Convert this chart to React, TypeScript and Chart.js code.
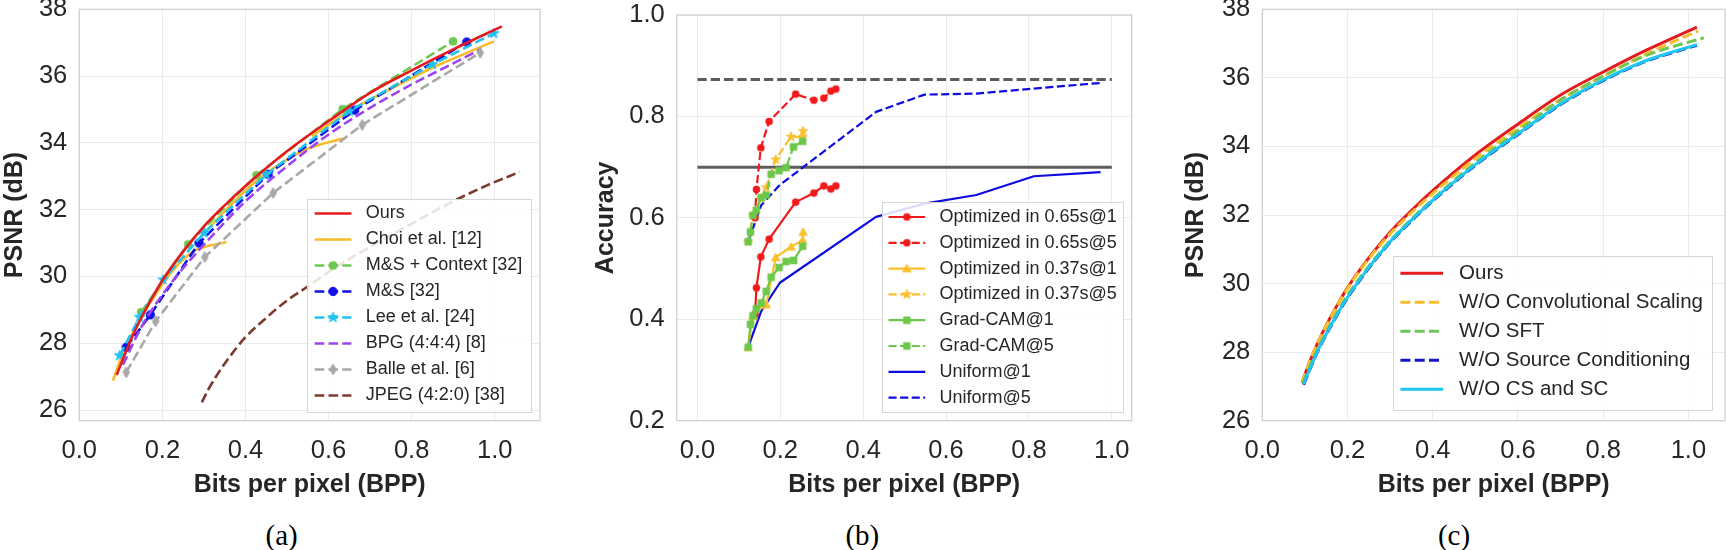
import React, { useEffect, useRef } from "react";
import { Chart, registerables } from "chart.js";

Chart.register(...registerables);

const FONT = '"Liberation Sans", Arial, Helvetica, sans-serif';
const SERIF = '"Liberation Serif", "Times New Roman", Times, serif';
const TEXT = "#262626";
const GRID = "#ebebeb";
const FRAME = "#cfcfcf";

// ================= Panel (a): rate-distortion comparison =================
const aXTicks = [0, 0.2, 0.4, 0.6, 0.8, 1.0];
const aYTicks = [26, 28, 30, 32, 34, 36, 38];

const aOursX = [0.09, 0.11, 0.13, 0.15, 0.175, 0.2, 0.25, 0.3, 0.35, 0.4, 0.5, 0.6, 0.7, 0.8, 0.9, 1.017];
const aOursY = [27.05, 27.68, 28.27, 28.78, 29.35, 29.88, 30.75, 31.5, 32.13, 32.71, 33.75, 34.65, 35.5, 36.17, 36.8, 37.49];

// Choi et al. is drawn in three disconnected pieces (null = break)
const aChoiX = [0.081, 0.1, 0.13, 0.17, 0.22, 0.26, 0.282, 0.354, 0.354, 0.29, 0.35, 0.42, 0.5, 0.551, 0.635, 0.635, 0.56, 0.65, 0.75, 0.85, 0.93, 0.998];
const aChoiY = [26.88, 27.55, 28.35, 29.2, 30.1, 30.62, 30.8, 31.03, null, 31.15, 31.95, 32.8, 33.5, 33.83, 34.13, null, 34.2, 34.95, 35.62, 36.25, 36.68, 37.04];

const aMsCtxX = [0.149, 0.262, 0.4265, 0.634, 0.8996];
const aMsCtxY = [28.93, 30.96, 33.03, 35.01, 37.04];

const aMsX = [0.113, 0.171, 0.288, 0.4545, 0.663, 0.9326];
const aMsY = [27.88, 28.85, 31.0, 33.06, 34.98, 37.02];

const aLeeX = [0.097, 0.145, 0.2015, 0.3, 0.45, 0.65, 0.85, 0.998];
const aLeeY = [27.63, 28.78, 29.9, 31.3, 33.05, 34.95, 36.35, 37.28];

const aBpgX = [0.105, 0.15, 0.2, 0.25, 0.3, 0.4, 0.5, 0.6, 0.7, 0.8, 0.9, 0.967];
const aBpgY = [27.35, 28.5, 29.45, 30.25, 30.95, 32.25, 33.3, 34.25, 35.05, 35.75, 36.38, 36.81];

const aBalleX = [0.113, 0.184, 0.302, 0.4665, 0.681, 0.965];
const aBalleY = [27.13, 28.66, 30.58, 32.5, 34.54, 36.7];

const aJpegX = [0.295, 0.31, 0.33, 0.36, 0.4, 0.45, 0.5, 0.55, 0.62, 0.7, 0.8, 0.9, 0.98, 1.06];
const aJpegY = [26.23, 26.6, 27.02, 27.56, 28.18, 28.76, 29.28, 29.7, 30.3, 30.88, 31.58, 32.25, 32.72, 33.13];

// ================= Panel (b): accuracy vs bpp =================
const bXTicks = [0, 0.2, 0.4, 0.6, 0.8, 1.0];
const bYTicks = [0.2, 0.4, 0.6, 0.8, 1.0];

const bRefX = [0, 1.0];
const bTop5Ref = [0.873, 0.873];
const bTop1Ref = [0.7, 0.7];

const bOpt65X = [0.139, 0.1424, 0.153, 0.173, 0.237, 0.281, 0.305, 0.322, 0.334];
const bOpt65Top1 = [0.41, 0.462, 0.523, 0.558, 0.631, 0.649, 0.663, 0.657, 0.663];
const bOpt65Top5 = [0.6, 0.656, 0.738, 0.79, 0.844, 0.832, 0.836, 0.85, 0.854];

const bOpt37X = [0.1224, 0.134, 0.154, 0.166, 0.189, 0.226, 0.254, 0.255];
const bOpt37Top1 = [0.345, 0.405, 0.428, 0.429, 0.522, 0.543, 0.556, 0.572];
const bOpt37Top5 = [0.553, 0.605, 0.638, 0.66, 0.715, 0.76, 0.759, 0.771];

const bGradX = [0.1224, 0.128, 0.134, 0.142, 0.154, 0.166, 0.178, 0.197, 0.214, 0.232, 0.254];
const bGradTop1 = [0.345, 0.39, 0.407, 0.421, 0.432, 0.455, 0.483, 0.502, 0.514, 0.516, 0.544];
const bGradTop5 = [0.553, 0.572, 0.605, 0.615, 0.64, 0.645, 0.686, 0.693, 0.699, 0.74, 0.751];

const bUniX = [0.1224, 0.154, 0.199, 0.431, 0.548, 0.673, 0.812, 0.973];
const bUniTop1 = [0.345, 0.416, 0.472, 0.602, 0.628, 0.645, 0.682, 0.69];
const bUniTop5 = [0.553, 0.625, 0.665, 0.809, 0.843, 0.845, 0.855, 0.866];

// ================= Panel (c): ablation =================
const cXTicks = [0, 0.2, 0.4, 0.6, 0.8, 1.0];
const cYTicks = [26, 28, 30, 32, 34, 36, 38];

const cOursX = [0.093, 0.11, 0.13, 0.15, 0.175, 0.2, 0.25, 0.3, 0.35, 0.4, 0.5, 0.6, 0.7, 0.8, 0.9, 1.02];
const cOursY = [27.1, 27.68, 28.27, 28.78, 29.35, 29.88, 30.75, 31.5, 32.13, 32.71, 33.75, 34.65, 35.5, 36.17, 36.8, 37.48];
const cNoConvX = [0.093, 0.11, 0.13, 0.15, 0.175, 0.2, 0.25, 0.3, 0.35, 0.4, 0.5, 0.6, 0.7, 0.8, 0.9, 1.023];
const cNoConvY = [27.1, 27.68, 28.27, 28.77, 29.34, 29.86, 30.72, 31.45, 32.07, 32.63, 33.65, 34.53, 35.37, 36.05, 36.69, 37.37];
const cNoSftX = [0.095, 0.11, 0.13, 0.15, 0.175, 0.2, 0.25, 0.3, 0.35, 0.4, 0.5, 0.6, 0.7, 0.8, 0.9, 1.036];
const cNoSftY = [27.08, 27.53, 28.09, 28.58, 29.15, 29.66, 30.51, 31.25, 31.88, 32.46, 33.53, 34.45, 35.35, 36.05, 36.65, 37.17];
const cNoSrcX = [0.097, 0.11, 0.13, 0.15, 0.175, 0.2, 0.25, 0.3, 0.35, 0.4, 0.5, 0.6, 0.7, 0.8, 0.9, 1.02];
const cNoSrcY = [27.05, 27.45, 28.02, 28.51, 29.07, 29.58, 30.45, 31.2, 31.83, 32.41, 33.45, 34.35, 35.22, 35.92, 36.48, 36.95];
const cNoBothX = [0.097, 0.11, 0.13, 0.15, 0.175, 0.2, 0.25, 0.3, 0.35, 0.4, 0.5, 0.6, 0.7, 0.8, 0.9, 1.02];
const cNoBothY = [27.07, 27.47, 28.04, 28.53, 29.09, 29.6, 30.47, 31.22, 31.85, 32.43, 33.47, 34.37, 35.24, 35.94, 36.5, 36.97];

// ================= helpers =================
function zip(xs: number[], ys: (number | null)[]) {
  return xs.map((x, i) => ({ x, y: ys[i] }));
}

function makeMarker(shape: string, color: string, r: number): HTMLCanvasElement {
  const pad = 2;
  const dim = Math.ceil(r * 2 + pad * 2);
  const c = document.createElement("canvas");
  c.width = dim;
  c.height = dim;
  const g = c.getContext("2d") as CanvasRenderingContext2D;
  const cx = dim / 2;
  const cy = dim / 2;
  g.fillStyle = color;
  g.strokeStyle = color;
  g.lineWidth = 1;
  g.beginPath();
  if (shape === "circle") {
    g.arc(cx, cy, r, 0, Math.PI * 2);
  } else if (shape === "square") {
    g.rect(cx - r, cy - r, 2 * r, 2 * r);
  } else if (shape === "triangle") {
    g.moveTo(cx, cy - r);
    g.lineTo(cx - r, cy + r * 0.8);
    g.lineTo(cx + r, cy + r * 0.8);
    g.closePath();
  } else if (shape === "star") {
    const ri = r * 0.382;
    for (let k = 0; k < 10; k++) {
      const ang = -Math.PI / 2 + (k * Math.PI) / 5;
      const rr = k % 2 === 0 ? r : ri;
      const px = cx + rr * Math.cos(ang);
      const py = cy + rr * Math.sin(ang);
      if (k === 0) g.moveTo(px, py);
      else g.lineTo(px, py);
    }
    g.closePath();
  } else if (shape === "thinDiamond") {
    g.moveTo(cx, cy - r);
    g.lineTo(cx + r * 0.6, cy);
    g.lineTo(cx, cy + r);
    g.lineTo(cx - r * 0.6, cy);
    g.closePath();
  }
  g.fill();
  g.stroke();
  return c;
}

function series(
  label: string,
  xs: number[],
  ys: (number | null)[],
  color: string,
  lw: number,
  dash: number[],
  order: number,
  marker?: HTMLCanvasElement,
  inLegend = true,
  smooth = false
): any {
  const ds: any = {
    label,
    data: zip(xs, ys),
    borderColor: color,
    backgroundColor: color,
    borderWidth: lw,
    borderDash: dash,
    borderCapStyle: "butt",
    borderJoinStyle: "round",
    pointStyle: marker ? marker : false,
    pointRadius: marker ? 4 : 0,
    pointHoverRadius: marker ? 4 : 0,
    tension: 0,
    spanGaps: false,
    fill: false,
    order,
    inLegend,
  };
  if (smooth) ds.cubicInterpolationMode = "monotone";
  return ds;
}

const framePlugin = {
  id: "frame",
  afterDatasetsDraw(chart: any) {
    const { ctx, chartArea: ca } = chart;
    ctx.save();
    ctx.strokeStyle = FRAME;
    ctx.lineWidth = 1.25;
    ctx.strokeRect(ca.left, ca.top, ca.right - ca.left, ca.bottom - ca.top);
    ctx.restore();
  },
};

function boxLegend(cfg: any) {
  return {
    id: "boxLegend",
    afterDraw(chart: any) {
      const { ctx, chartArea: ca } = chart;
      const items = chart.data.datasets.filter((d: any) => d.inLegend);
      ctx.save();
      ctx.font = `${cfg.fontSize}px ${FONT}`;
      const maxW = Math.max(...items.map((d: any) => ctx.measureText(d.label).width));
      const w = cfg.padL + cfg.handle + cfg.gap + maxW + cfg.padR;
      const h = cfg.padTop + (items.length - 1) * cfg.rowH + cfg.padBottom;
      const x = Math.round(ca.right - cfg.marginR - w);
      const y = Math.round(ca.bottom - cfg.marginB - h);
      ctx.fillStyle = "rgba(255,255,255,0.85)";
      ctx.fillRect(x, y, w, h);
      ctx.strokeStyle = "#d6d6d6";
      ctx.lineWidth = 1;
      ctx.strokeRect(x + 0.5, y + 0.5, Math.round(w), Math.round(h));
      items.forEach((d: any, i: number) => {
        const cy = y + cfg.padTop + i * cfg.rowH;
        const x0 = x + cfg.padL;
        const x1 = x0 + cfg.handle;
        ctx.beginPath();
        ctx.setLineDash(d.borderDash || []);
        ctx.lineDashOffset = 0;
        ctx.lineCap = "butt";
        ctx.strokeStyle = d.borderColor;
        ctx.lineWidth = d.borderWidth;
        ctx.moveTo(x0, cy);
        ctx.lineTo(x1, cy);
        ctx.stroke();
        ctx.setLineDash([]);
        if (d.pointStyle && d.pointRadius > 0) {
          const m = d.pointStyle as HTMLCanvasElement;
          ctx.drawImage(m, (x0 + x1) / 2 - m.width / 2, cy - m.height / 2);
        }
        ctx.fillStyle = TEXT;
        ctx.textBaseline = "middle";
        ctx.textAlign = "left";
        ctx.fillText(d.label, x1 + cfg.gap, cy);
      });
      ctx.restore();
    },
  };
}

function makeOptions(p: any): any {
  return {
    responsive: false,
    maintainAspectRatio: false,
    animation: false,
    events: [],
    layout: { padding: { top: p.padTop, right: p.padRight, left: 0, bottom: 0 } },
    plugins: { legend: { display: false }, tooltip: { enabled: false } },
    scales: {
      x: {
        type: "linear",
        min: p.xMin,
        max: p.xMax,
        grid: { color: GRID, lineWidth: 1, drawTicks: false },
        border: { display: false },
        ticks: {
          font: { family: FONT, size: p.tickSize },
          color: TEXT,
          padding: p.xTickPad,
          maxRotation: 0,
          autoSkip: false,
          callback: (v: any) => Number(v).toFixed(1),
        },
        title: {
          display: true,
          text: "Bits per pixel (BPP)",
          font: { family: FONT, size: p.titleSize, weight: "bold" },
          color: TEXT,
          padding: { top: 0, bottom: p.xTitlePad },
        },
        afterBuildTicks: (s: any) => {
          s.ticks = p.xTicks.map((v: number) => ({ value: v }));
        },
        afterFit: (s: any) => {
          s.height = p.xAxisH;
          s.paddingLeft = 0;
          s.paddingRight = 0;
        },
      },
      y: {
        type: "linear",
        min: p.yMin,
        max: p.yMax,
        grid: { color: GRID, lineWidth: 1, drawTicks: false },
        border: { display: false },
        ticks: {
          font: { family: FONT, size: p.tickSize },
          color: TEXT,
          padding: p.yTickPad,
          autoSkip: false,
          callback: p.yFmt,
        },
        title: {
          display: true,
          text: p.yTitle,
          font: { family: FONT, size: p.titleSize, weight: "bold" },
          color: TEXT,
          padding: { top: p.yTitlePad, bottom: 0 },
        },
        afterBuildTicks: (s: any) => {
          s.ticks = p.yTicks.map((v: number) => ({ value: v }));
        },
        afterFit: (s: any) => {
          s.width = p.yAxisW;
          s.paddingTop = 0;
          s.paddingBottom = 0;
        },
      },
    },
  };
}

const TICK = 25.5;
const TITLE = 25;

// ================= chart builders =================
function buildA(): any {
  const lw = 2.6;
  const dash = [9.6, 4.2];
  const red = "#e41a1c";
  const orange = "#f9bb2a";
  const green = "#6dc752";
  const blue = "#1010e6";
  const cyan = "#1fc3f0";
  const purple = "#9b45f0";
  const gray = "#a8a8a8";
  const brown = "#7b3b2c";
  const datasets = [
    series("Ours", aOursX, aOursY, red, lw, [], -100, undefined, true, true),
    series("Choi et al. [12]", aChoiX, aChoiY, orange, lw, [], -1, undefined, true, true),
    series("M&S + Context [32]", aMsCtxX, aMsCtxY, green, lw, dash, -2, makeMarker("circle", green, 4)),
    series("M&S [32]", aMsX, aMsY, blue, lw, dash, -3, makeMarker("circle", blue, 4.2)),
    series("Lee et al. [24]", aLeeX, aLeeY, cyan, lw, dash, -4, makeMarker("star", cyan, 5.5)),
    series("BPG (4:4:4) [8]", aBpgX, aBpgY, purple, lw, dash, -5, undefined, true, true),
    series("Balle et al. [6]", aBalleX, aBalleY, gray, lw, dash, -6, makeMarker("thinDiamond", gray, 5.5)),
    series("JPEG (4:2:0) [38]", aJpegX, aJpegY, brown, lw, dash, -7, undefined, true, true),
  ];
  return {
    type: "line",
    data: { datasets },
    options: makeOptions({
      padTop: 9.3,
      padRight: 20,
      xMin: 0,
      xMax: 1.109,
      yMin: 25.68,
      yMax: 38.0,
      xTicks: aXTicks,
      yTicks: aYTicks,
      tickSize: TICK,
      titleSize: TITLE,
      xTickPad: 15,
      yTickPad: 12,
      xTitlePad: 5,
      yTitlePad: 0,
      xAxisH: 84.3,
      yAxisW: 79.3,
      yTitle: "PSNR (dB)",
      yFmt: (v: any) => String(Math.round(Number(v))),
    }),
    plugins: [
      framePlugin,
      boxLegend({ fontSize: 18, padL: 7.7, handle: 36.7, gap: 14.3, padR: 9, padTop: 14.5, rowH: 26, padBottom: 16, marginR: 8.3, marginB: 9 }),
    ],
  };
}

function buildB(): any {
  const lw = 2.2;
  const dash = [8.1, 3.5];
  const red = "#f01a1a";
  const orange = "#fbbf2e";
  const green = "#6cc84a";
  const blue = "#0c0ce0";
  const gray = "#5c5c5c";
  const datasets = [
    series("Optimized in 0.65s@1", bOpt65X, bOpt65Top1, red, lw, [], 6, makeMarker("circle", red, 3.4)),
    series("Optimized in 0.65s@5", bOpt65X, bOpt65Top5, red, lw, dash, 5, makeMarker("circle", red, 3.4)),
    series("Optimized in 0.37s@1", bOpt37X, bOpt37Top1, orange, lw, [], 4, makeMarker("triangle", orange, 4.2)),
    series("Optimized in 0.37s@5", bOpt37X, bOpt37Top5, orange, lw, dash, 3, makeMarker("star", orange, 5)),
    series("Grad-CAM@1", bGradX, bGradTop1, green, lw, [], 2, makeMarker("square", green, 3.3)),
    series("Grad-CAM@5", bGradX, bGradTop5, green, lw, dash, 1, makeMarker("square", green, 3.3)),
    series("Uniform@1", bUniX, bUniTop1, blue, lw, [], 8),
    series("Uniform@5", bUniX, bUniTop5, blue, lw, dash, 7),
    series("Top-5 reference", bRefX, bTop5Ref, gray, 3, [9.3, 4], 10, undefined, false),
    series("Top-1 reference", bRefX, bTop1Ref, gray, 3, [], 9, undefined, false),
  ];
  return {
    type: "line",
    data: { datasets },
    options: makeOptions({
      padTop: 15,
      padRight: 18.3,
      xMin: -0.05,
      xMax: 1.048,
      yMin: 0.2,
      yMax: 1.0,
      xTicks: bXTicks,
      yTicks: bYTicks,
      tickSize: TICK,
      titleSize: TITLE,
      xTickPad: 15,
      yTickPad: 12,
      xTitlePad: 5,
      yTitlePad: 11,
      xAxisH: 84.3,
      yAxisW: 96.7,
      yTitle: "Accuracy",
      yFmt: (v: any) => Number(v).toFixed(1),
    }),
    plugins: [
      framePlugin,
      boxLegend({ fontSize: 18, padL: 6.5, handle: 36.7, gap: 14.3, padR: 6, padTop: 15, rowH: 25.8, padBottom: 14.5, marginR: 9, marginB: 9 }),
    ],
  };
}

function buildC(): any {
  const lw = 3;
  const dash = [10, 4.3];
  const datasets = [
    series("Ours", cOursX, cOursY, "#e41a1c", lw, [], 0, undefined, true, true),
    series("W/O Convolutional Scaling", cNoConvX, cNoConvY, "#fbbc2c", lw, dash, -1, undefined, true, true),
    series("W/O SFT", cNoSftX, cNoSftY, "#6dc752", lw, dash, -2, undefined, true, true),
    series("W/O Source Conditioning", cNoSrcX, cNoSrcY, "#1616c8", lw, dash, -3, undefined, true, true),
    series("W/O CS and SC", cNoBothX, cNoBothY, "#1ec6f2", lw, [], -4, undefined, true, true),
  ];
  return {
    type: "line",
    data: { datasets },
    options: makeOptions({
      padTop: 9.3,
      padRight: 1,
      xMin: 0,
      xMax: 1.086,
      yMin: 26,
      yMax: 38,
      xTicks: cXTicks,
      yTicks: cYTicks,
      tickSize: TICK,
      titleSize: TITLE,
      xTickPad: 15,
      yTickPad: 12,
      xTitlePad: 5,
      yTitlePad: 11,
      xAxisH: 84.3,
      yAxisW: 92.3,
      yTitle: "PSNR (dB)",
      yFmt: (v: any) => String(Math.round(Number(v))),
    }),
    plugins: [
      framePlugin,
      boxLegend({ fontSize: 20.5, padL: 7.4, handle: 42.7, gap: 16, padR: 9.3, padTop: 17.3, rowH: 29, padBottom: 20.7, marginR: 12.7, marginB: 10.7 }),
    ],
  };
}

function ChartCanvas(props: { build: () => any; left: number; width: number; height: number }) {
  const ref = useRef<HTMLCanvasElement | null>(null);
  useEffect(() => {
    const chart = new Chart(ref.current as HTMLCanvasElement, props.build());
    return () => chart.destroy();
  }, []);
  return (
    <canvas
      ref={ref}
      width={props.width}
      height={props.height}
      style={{ position: "absolute", left: props.left, top: 0, width: props.width, height: props.height }}
    />
  );
}

function Caption(props: { cx: number; text: string }) {
  return (
    <div
      style={{
        position: "absolute",
        left: props.cx - 50,
        width: 100,
        top: 517,
        textAlign: "center",
        fontFamily: SERIF,
        fontSize: 29,
        lineHeight: "36px",
        color: "#000",
      }}
    >
      {props.text}
    </div>
  );
}

export default function App() {
  return (
    <div
      style={{
        position: "absolute",
        left: 0,
        top: 0,
        width: 1726,
        height: 550,
        background: "#ffffff",
        overflow: "hidden",
      }}
    >
      <ChartCanvas build={buildA} left={0} width={560} height={505} />
      <ChartCanvas build={buildB} left={580} width={570} height={505} />
      <ChartCanvas build={buildC} left={1170} width={556} height={505} />
      <Caption cx={281.6} text="(a)" />
      <Caption cx={862.3} text="(b)" />
      <Caption cx={1454} text="(c)" />
    </div>
  );
}
